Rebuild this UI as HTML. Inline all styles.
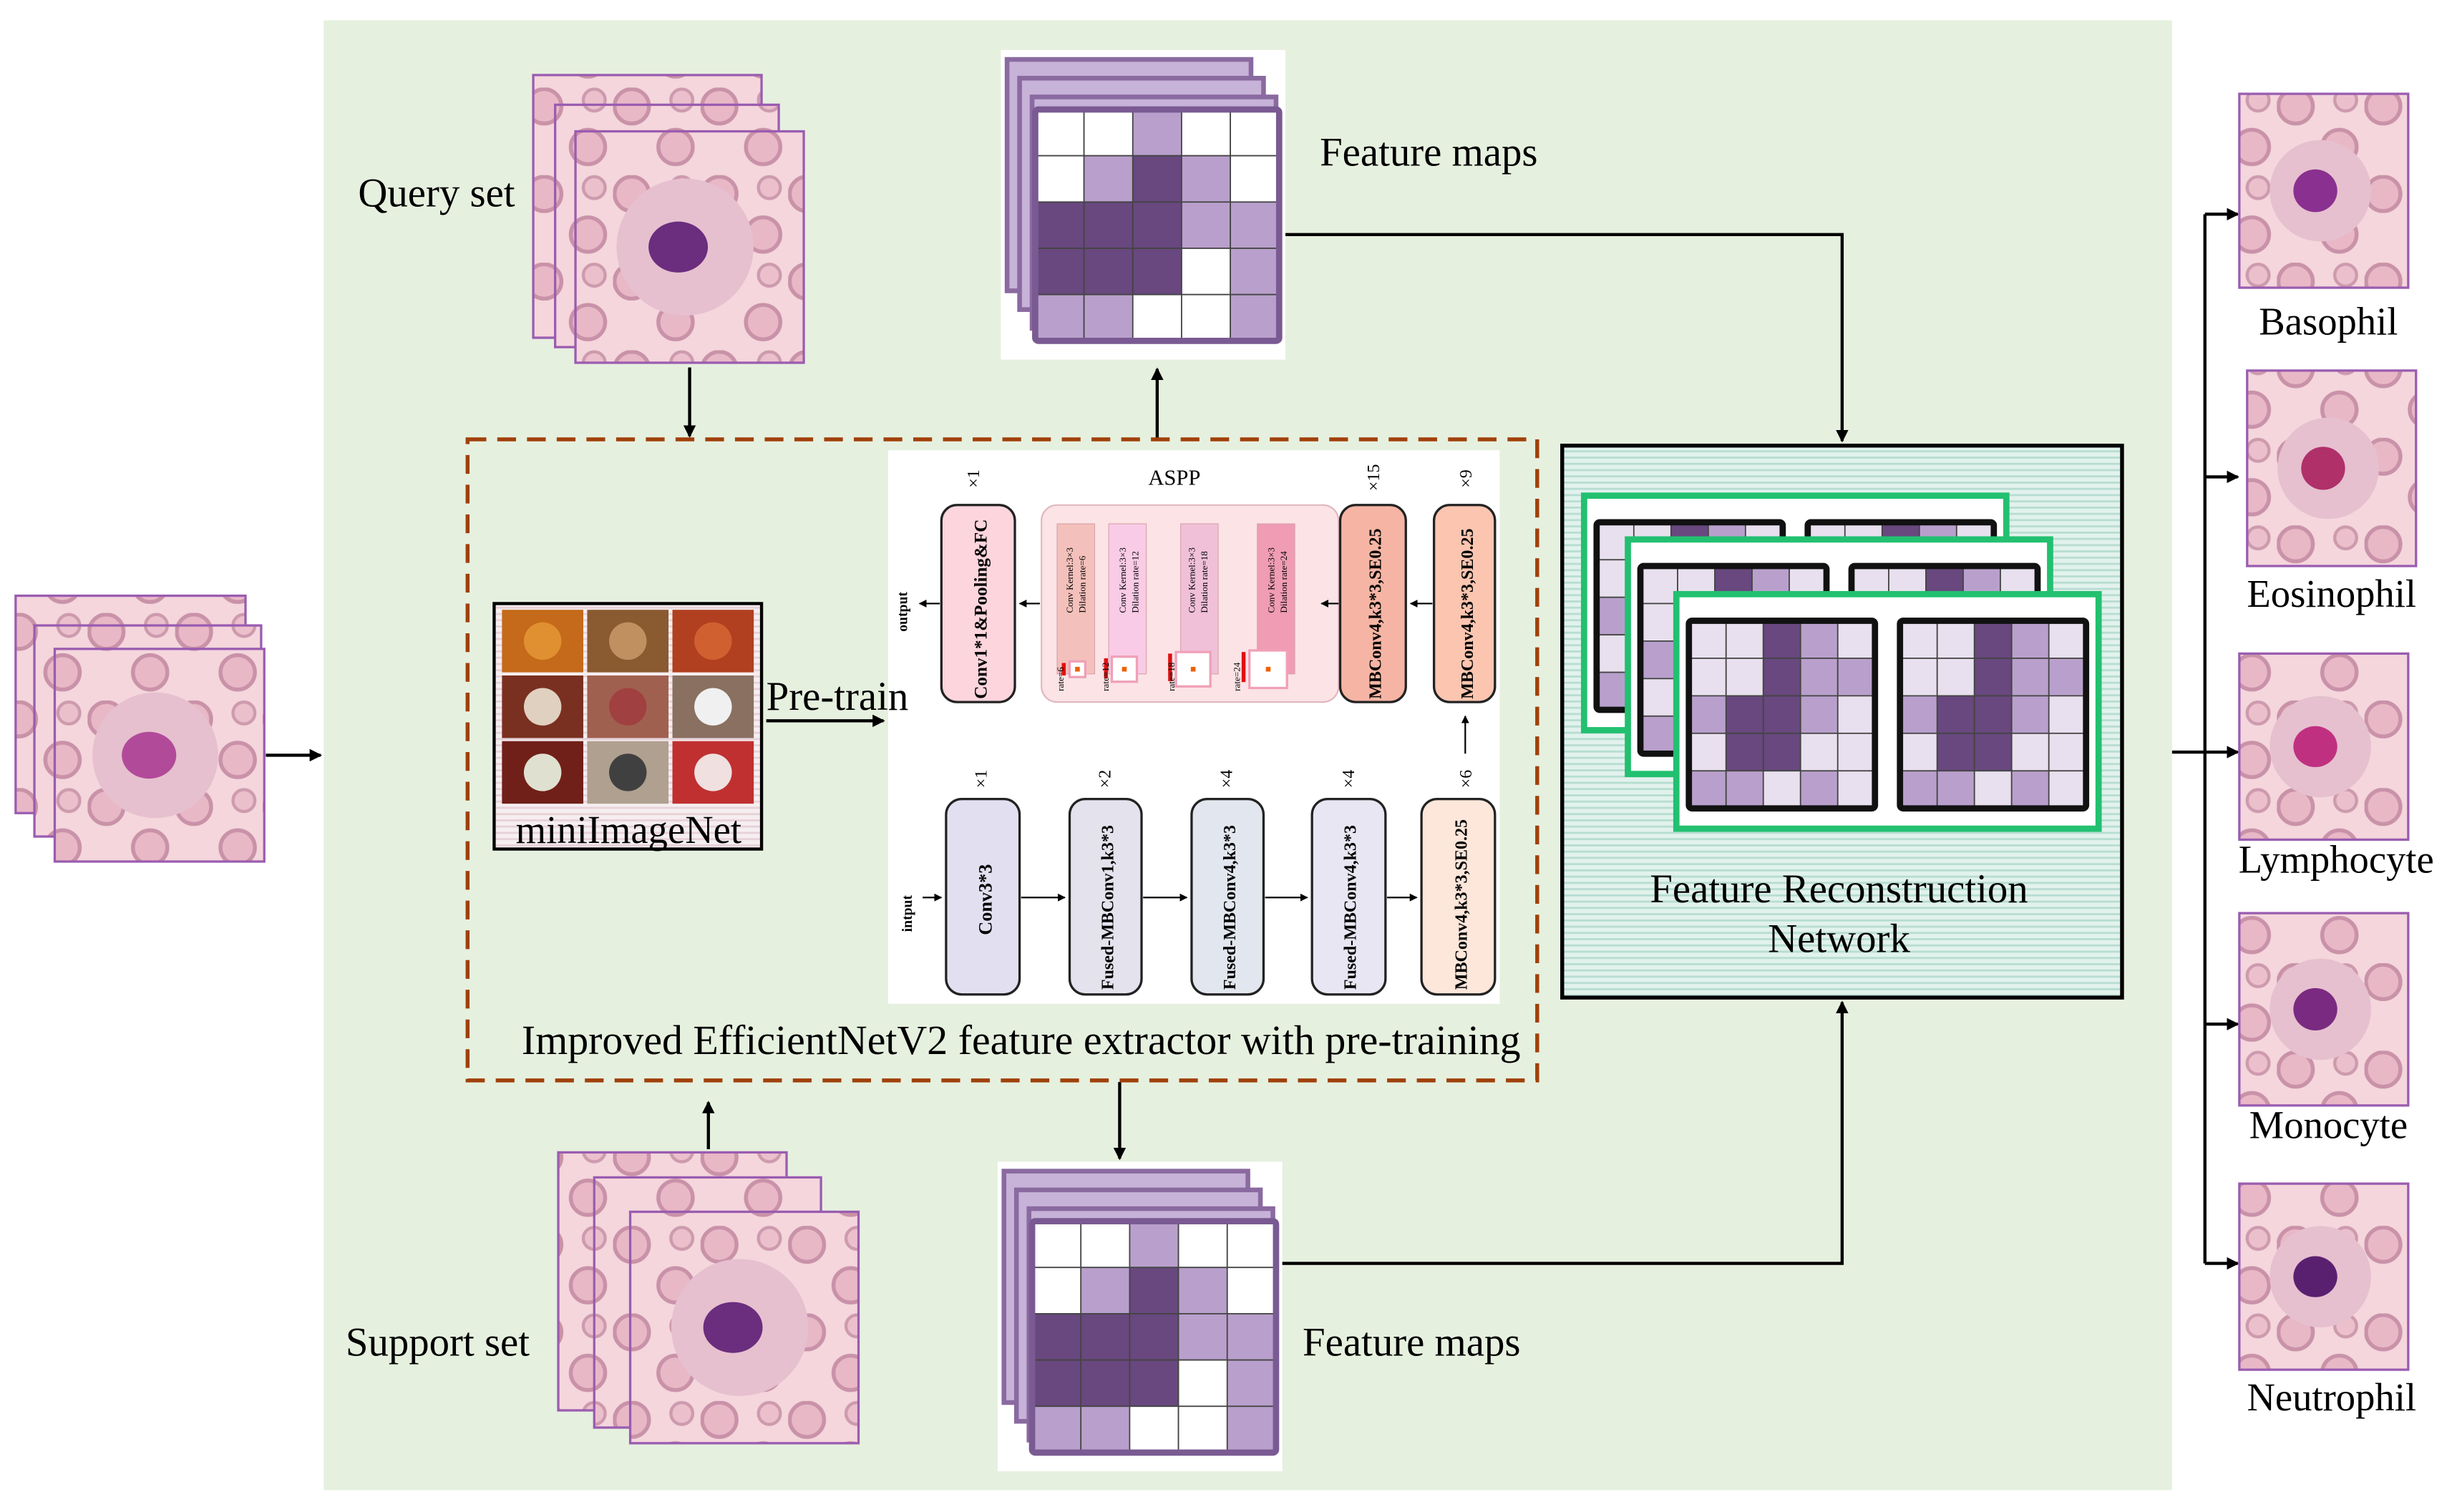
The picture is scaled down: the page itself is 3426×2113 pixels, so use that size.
<!DOCTYPE html>
<html><head><meta charset="utf-8"><style>
html,body{margin:0;padding:0;background:#fff;}
svg{display:block;}
text{font-family:"Liberation Serif",serif;fill:#000;}
</style></head><body>
<svg id="s" width="3426" height="2113" viewBox="0 0 1568 967" preserveAspectRatio="none" xmlns="http://www.w3.org/2000/svg">
<defs>
<pattern id="cells" width="56" height="56" patternUnits="userSpaceOnUse">
<rect width="56" height="56" fill="#f4d6dc"/>
<circle cx="12" cy="12" r="11" fill="#e8b8c6" stroke="#c992a8" stroke-width="2.5"/>
<circle cx="40" cy="38" r="11" fill="#e8b8c6" stroke="#c992a8" stroke-width="2.5"/>
<circle cx="44" cy="8" r="7" fill="#ebc0cc" stroke="#cd9aae" stroke-width="2"/>
</pattern>
<pattern id="stripe" width="4" height="4" patternUnits="userSpaceOnUse">
<rect width="4" height="4" fill="#e2f2ec"/><rect width="4" height="1.3" fill="#b7ddd2"/>
</pattern>
<pattern id="pstripe" width="4" height="4" patternUnits="userSpaceOnUse">
<rect width="4" height="4" fill="#f6eef0"/><rect width="4" height="1.3" fill="#e6d2d8"/>
</pattern>
<marker id="ah" markerWidth="8" markerHeight="8" refX="7" refY="4" orient="auto" markerUnits="userSpaceOnUse">
<path d="M0,0 L8,4 L0,8 z" fill="#000"/></marker>
<marker id="sa" markerWidth="5" markerHeight="5" refX="4.5" refY="2.5" orient="auto" markerUnits="userSpaceOnUse">
<path d="M0,0 L5,2.5 L0,5 z" fill="#000"/></marker>
</defs>
<rect x="207" y="13" width="1182" height="940" fill="#e6f0df"/>
<g id="g"></g>

<text x="229" y="132" font-size="26">Query set</text>
<text x="844" y="106" font-size="26">Feature maps</text>
<text x="221" y="867" font-size="26">Support set</text>
<text x="833" y="867" font-size="26">Feature maps</text>
<text x="490" y="454" font-size="26">Pre-train</text>
<text x="402" y="539" font-size="25" text-anchor="middle">miniImageNet</text>
<text x="653" y="674" font-size="26.5" text-anchor="middle">Improved EfficientNetV2 feature extractor with pre-training</text>
<text x="1176" y="577" font-size="26" text-anchor="middle">Feature Reconstruction</text>
<text x="1176" y="609" font-size="26" text-anchor="middle">Network</text>
<text x="1489" y="214" font-size="25" text-anchor="middle">Basophil</text>
<text x="1491" y="388" font-size="25" text-anchor="middle">Eosinophil</text>
<text x="1494" y="558" font-size="25" text-anchor="middle">Lymphocyte</text>
<text x="1489" y="728" font-size="25" text-anchor="middle">Monocyte</text>
<text x="1491" y="902" font-size="25" text-anchor="middle">Neutrophil</text>
<text x="751" y="310" font-size="14" text-anchor="middle">ASPP</text>

<g font-weight="bold" font-size="12">
<text transform="translate(631,447) rotate(-90)" font-size="11.5">Conv1*1&amp;Pooling&amp;FC</text>
<text transform="translate(883,447) rotate(-90)" font-size="11">MBConv4,k3*3,SE0.25</text>
<text transform="translate(942,447) rotate(-90)" font-size="11">MBConv4,k3*3,SE0.25</text>
<text transform="translate(634,598) rotate(-90)">Conv3*3</text>
<text transform="translate(712,633) rotate(-90)" font-size="11">Fused-MBConv1,k3*3</text>
<text transform="translate(790,633) rotate(-90)" font-size="11">Fused-MBConv4,k3*3</text>
<text transform="translate(867,633) rotate(-90)" font-size="11">Fused-MBConv4,k3*3</text>
<text transform="translate(938,633) rotate(-90)" font-size="11">MBConv4,k3*3,SE0.25</text>
<text transform="translate(580,404) rotate(-90)" font-size="9">output</text>
<text transform="translate(583,596) rotate(-90)" font-size="9">intput</text>
</g>
<g font-size="11">
<text transform="translate(626,312) rotate(-90)">×1</text>
<text transform="translate(882,314) rotate(-90)">×15</text>
<text transform="translate(941,312) rotate(-90)">×9</text>
<text transform="translate(631,504) rotate(-90)">×1</text>
<text transform="translate(710,504) rotate(-90)">×2</text>
<text transform="translate(788,504) rotate(-90)">×4</text>
<text transform="translate(866,504) rotate(-90)">×4</text>
<text transform="translate(941,504) rotate(-90)">×6</text>
</g>
<g font-size="6" fill="#555">
<text transform="translate(686,392) rotate(-90)">Conv Kernel:3×3</text><text transform="translate(694,392) rotate(-90)">Dilation rate=6</text>
<text transform="translate(720,392) rotate(-90)">Conv Kernel:3×3</text><text transform="translate(728,392) rotate(-90)">Dilation rate=12</text>
<text transform="translate(764,392) rotate(-90)">Conv Kernel:3×3</text><text transform="translate(772,392) rotate(-90)">Dilation rate=18</text>
<text transform="translate(815,392) rotate(-90)">Conv Kernel:3×3</text><text transform="translate(823,392) rotate(-90)">Dilation rate=24</text>
<text transform="translate(680,442) rotate(-90)">rate=6</text>
<text transform="translate(709,442) rotate(-90)">rate=12</text>
<text transform="translate(751,442) rotate(-90)">rate=18</text>
<text transform="translate(793,442) rotate(-90)">rate=24</text>
</g>
</svg>
<script>
var NS="http://www.w3.org/2000/svg",G=document.getElementById("g");
function el(t,a,p){var e=document.createElementNS(NS,t);for(var k in a)e.setAttribute(k,a[k]);(p||G).appendChild(e);return e;}
function R(x,y,w,h,f,s,sw,rx){return el("rect",{x:x,y:y,width:w,height:h,fill:f||"none",stroke:s||"none","stroke-width":sw||0,rx:rx||0});}
function L(pts,arrow,sw,col){return el("polyline",{points:pts,fill:"none",stroke:col||"#000","stroke-width":sw||2,"marker-end":arrow?"url(#"+(arrow===2?"sa":"ah")+")":""});}
var D="#68487e",M="#b9a0cc",Lc="#e8e0ee";
var pat=[[Lc,Lc,D,M,Lc],[Lc,Lc,D,M,M],[M,D,D,M,Lc],[Lc,D,D,Lc,Lc],[M,M,Lc,M,Lc]];
function grid(x,y,w,h,border,bw,pt){var cw=w/5,ch=h/5;for(var r=0;r<5;r++)for(var c=0;c<5;c++)R(x+c*cw,y+r*ch,cw,ch,(pt||pat)[r][c],"#444",0.8);R(x,y,w,h,"none",border,bw,2);}
function cellimg(x,y,w,h,nucleus){R(x,y,w,h,"url(#cells)","#9a5cb0",1.5);
 el("circle",{cx:x+w*0.48,cy:y+h*0.5,r:Math.min(w,h)*0.3,fill:"#e6c0cf"});
 el("ellipse",{cx:x+w*0.45,cy:y+h*0.5,rx:w*0.13,ry:h*0.11,fill:nucleus||"#6b2d7e"});}
cellimg(10,381,147,139);cellimg(22,400,145,135);cellimg(35,415,134,136,"#b24a9a");
L("170,483 205,483",1);
cellimg(341,48,146,168);cellimg(355,67,143,155);cellimg(368,84,146,148);
L("441,235 441,279",1);
cellimg(357,737,146,165);cellimg(380,753,145,160);cellimg(403,775,146,148);
L("453,735 453,705",1);
var wpat=[["#fff","#fff",M,"#fff","#fff"],["#fff",M,D,M,"#fff"],[D,D,D,M,M],[D,D,D,"#fff",M],[M,M,"#fff","#fff",M]];
function fmap(x,y){R(x,y,182,198,"#fff");
 for(var i=0;i<3;i++){R(x+4+i*8,y+6+i*12,156,148,"#c7b2d8","#8a6aa0",3);}
 grid(x+22,y+38,156,148,"#7a5a92",4,wpat);}
fmap(640,32);fmap(638,743);
L("740,281 740,236",1);
L("716,692 716,741",1);
L("822,150 1178,150 1178,282",1);
L("820,808 1178,808 1178,641",1);
el("rect",{x:299,y:281,width:684,height:410,fill:"none",stroke:"#a0400a","stroke-width":2.5,"stroke-dasharray":"12,7"});
R(316,386,171,157,"url(#pstripe)","#000",2);
var cols=["#c46a1a","#8a5a30","#b04020","#7a3020","#a06050","#8a7060","#702018","#b0a090","#c03030"];
for(var i=0;i<9;i++){var cx=321+(i%3)*54.5,cy=390+Math.floor(i/3)*42;R(cx,cy,52,40,cols[i]);el("circle",{cx:cx+26,cy:cy+20,r:12,fill:["#e09030","#c09060","#d06030","#e0d0c0","#a04040","#f0f0f0","#e0e0d0","#404040","#f0e0e0"][i]});}
L("490,461 565,461",1);
R(568,288,391,354,"#fff");
R(602,323,47,126,"#fcd5dd","#222",1.5,10);
R(666,323,190,126,"#fbe3e6","#e0b8c0",1,10);
R(857,323,42,126,"#f6b5a4","#222",1.5,10);
R(917,323,39,126,"#fbc5b0","#222",1.5,10);
var af=["#f4c0bb","#f9cbe6","#f0c0d8","#f09cb5"],ax=[676,709,755,804];
for(var i=0;i<4;i++){R(ax[i],335,24,96,af[i],"#d8a0a8",0.5);}
for(var i=0;i<4;i++){var sz=[10,16,22,24][i],sx=[684,711,752,799][i];var sy=428-sz/2;R(sx,sy,sz,sz,"#fff","#f0a0b8",1.5);R(sx+sz/2-1.5,sy+sz/2-1.5,3,3,"#f06000");R(sx-5,sy+1,2.5,sz*0.8,"#e01010");}
R(605,511,47,125,"#e2e0f0","#222",1.5,10);
R(684,511,46,125,"#e4e2ec","#222",1.5,10);
R(762,511,46,125,"#e2e6ee","#222",1.5,10);
R(839,511,47,125,"#e8e6f2","#222",1.5,10);
R(909,511,47,125,"#fde6da","#222",1.5,10);
L("601,386 588,386",2,1);L("665,386 652,386",2,1);L("856,386 845,386",2,1);L("916,386 902,386",2,1);
L("937,482 937,458",2,1);
L("590,574 602,574",2,1);L("653,574 681,574",2,1);L("731,574 759,574",2,1);L("809,574 836,574",2,1);L("887,574 906,574",2,1);
R(999,285,358,353,"url(#stripe)","#000",2.5);
var cards=[[1013,317],[1041,345],[1072,380]];
cards.forEach(function(c){R(c[0],c[1],270,150,"#fff","#22c070",4);
 grid(c[0]+8,c[1]+17,119,120,"#111",4);grid(c[0]+143,c[1]+17,119,120,"#111",4);});
L("1389,481 1410,481",0);L("1410,137 1410,808",0);
[137,305,481,655,808].forEach(function(y){L("1410,"+y+" 1431,"+y,1);});
cellimg(1432,60,108,124,"#8a3090");cellimg(1437,237,108,125,"#b0306a");cellimg(1432,418,108,119,"#c03080");cellimg(1432,584,108,123,"#7a2a80");cellimg(1432,757,108,119,"#5a2070");
</script>
</body></html>
